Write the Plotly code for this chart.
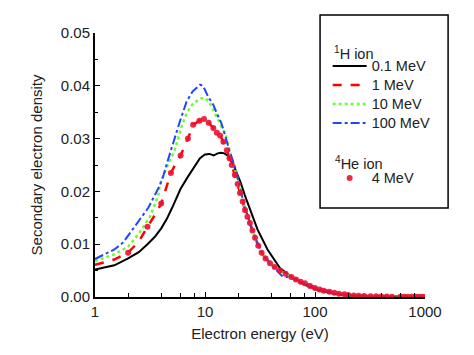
import plotly.graph_objects as go

# 1H ion, 0.1 MeV
e_01 = [1, 1.5, 2, 2.5, 3, 3.5, 4, 4.5, 5, 5.5, 6, 7, 8, 9, 10, 11, 12, 13, 14, 15, 16, 17, 18, 19, 20, 21, 23, 26.6, 30, 37, 48, 61, 81, 106, 150, 200, 300, 500, 1000]
d_01 = [0.0052, 0.0060, 0.0073, 0.0085, 0.0100, 0.0114, 0.0130, 0.0148, 0.0168, 0.0188, 0.0205, 0.0228, 0.0247, 0.0263, 0.0270, 0.0271, 0.0268, 0.0272, 0.0273, 0.0272, 0.0268, 0.0260, 0.0252, 0.0240, 0.0229, 0.0218, 0.0193, 0.0159, 0.0128, 0.0090, 0.0055, 0.0038, 0.0023, 0.0013, 0.0006, 0.0003, 0.00012, 0.00004, 0.0]

# 1H ion, 1 MeV
e_1 = [1, 1.5, 2, 2.5, 3, 3.5, 4, 4.5, 4.9, 5.5, 6, 7, 7.8, 8.9, 9.8, 10.8, 11.9, 12.8, 13.7, 14.7, 15.8, 17.5, 18.7, 20, 21, 23.1, 25.6, 28.5, 32.7, 39, 48, 61, 81, 106, 150, 200, 300, 500, 1000]
d_1 = [0.0061, 0.0071, 0.0084, 0.0105, 0.0133, 0.0155, 0.0177, 0.0210, 0.0235, 0.0255, 0.0268, 0.0300, 0.0326, 0.0334, 0.0337, 0.0330, 0.0320, 0.0311, 0.0306, 0.0294, 0.0278, 0.0250, 0.0231, 0.0210, 0.0195, 0.0165, 0.0140, 0.0112, 0.0083, 0.0064, 0.0050, 0.0038, 0.0026, 0.0016, 0.0008, 0.0004, 0.00018, 0.00006, 0.00002]

# 1H ion, 10 MeV
e_10 = [1, 1.5, 2, 2.5, 3.16, 3.76, 3.9, 4.5, 5.3, 6.1, 6.8, 7.7, 9.0, 10.0, 10.9, 12.5, 14.3, 15.4, 16.2, 17.5, 19, 20.5, 23, 25.6, 28.5, 32.7, 39, 48, 61, 81, 106, 150, 200, 300, 500, 1000]
d_10 = [0.0068, 0.0081, 0.0095, 0.0120, 0.0152, 0.0193, 0.0214, 0.0246, 0.0278, 0.0322, 0.0348, 0.0365, 0.0376, 0.0377, 0.0370, 0.0345, 0.0323, 0.0307, 0.0288, 0.0266, 0.0238, 0.0212, 0.0170, 0.0140, 0.0112, 0.0084, 0.0064, 0.0050, 0.0038, 0.0026, 0.0016, 0.0008, 0.0004, 0.00018, 0.00006, 0.00002]

# 1H ion, 100 MeV
e_100 = [1, 1.5, 1.8, 2.4, 3.05, 3.9, 4.2, 4.6, 5.15, 5.9, 6.8, 7.7, 9, 9.6, 10.7, 11.9, 12.8, 14.1, 15.2, 16.8, 18.7, 20, 21.5, 23, 25.6, 28.5, 32.7, 39, 50, 61, 81, 106, 150, 200, 300, 500, 1000]
d_100 = [0.0072, 0.0090, 0.0103, 0.0140, 0.0169, 0.0212, 0.0231, 0.0259, 0.0294, 0.0332, 0.0370, 0.0389, 0.0402, 0.0400, 0.0379, 0.0364, 0.0348, 0.0329, 0.0307, 0.0275, 0.0247, 0.0222, 0.0196, 0.0170, 0.0142, 0.0113, 0.0085, 0.0064, 0.0040, 0.0036, 0.0025, 0.0016, 0.0008, 0.0004, 0.00018, 0.00006, 0.00002]

# 4He ion, 4 MeV (markers)
e_he = [2, 3, 4, 4.9, 6, 7, 7.8, 8.9, 9.8, 10.8, 11.9, 12.8, 13.7, 14.7, 15.8, 16.7, 17.5, 18.7, 19.8, 20.8, 22, 23.1, 24.3, 25.6, 27, 28.5, 30.5, 32.7, 35.5, 39, 43, 48, 54, 61, 67, 74, 81, 90, 100, 110, 120, 135, 150, 165, 185, 200, 225, 250, 280, 320, 360, 400, 450, 500, 600, 650, 700, 760, 820, 880, 940, 1000]
d_he = [0.0084, 0.0133, 0.0177, 0.0235, 0.0268, 0.0300, 0.0326, 0.0334, 0.0337, 0.0330, 0.0320, 0.0311, 0.0306, 0.0294, 0.0278, 0.0263, 0.0250, 0.0231, 0.0214, 0.0197, 0.0181, 0.0165, 0.0152, 0.0140, 0.0126, 0.0112, 0.0097, 0.0084, 0.0073, 0.0064, 0.0057, 0.0050, 0.0044, 0.0038, 0.0033, 0.0029, 0.0026, 0.0021, 0.0017, 0.0014, 0.0012, 0.0010, 0.0008, 0.0006, 0.0005, 0.0004, 0.0003, 0.00025, 0.0002, 0.00015, 0.00012, 0.0001, 0.00008, 0.00006, 0.00005, 0.00005, 0.00004, 0.00004, 0.00003, 0.00003, 0.00003, 0.00002]

group_titles = ["<sup>1</sup>H ion", "<sup>4</sup>He ion"]

FONT = "Arial, Liberation Sans, sans-serif"
TXT = "#222"


def big(t):
    return '<span style="font-size:14.5px">' + t + '</span>'


fig = go.Figure()
fig.add_trace(go.Scatter(x=e_01, y=d_01, mode="lines", name=big("0.1 MeV"),
                         line=dict(color="black", width=2), legendgroup="H"))
fig.add_trace(go.Scatter(x=e_1, y=d_1, mode="lines", name=big("1 MeV"),
                         line=dict(color="#ff0000", width=2.5, dash="dash"), legendgroup="H"))
fig.add_trace(go.Scatter(x=e_10, y=d_10, mode="lines", name=big("10 MeV"),
                         line=dict(color="#66ff33", width=2.5, dash="dot"), legendgroup="H"))
fig.add_trace(go.Scatter(x=e_100, y=d_100, mode="lines", name=big("100 MeV"),
                         line=dict(color="#2244ff", width=2, dash="dashdot"), legendgroup="H"))
fig.add_trace(go.Scatter(x=e_he, y=d_he, mode="markers", name=big("4 MeV"),
                         marker=dict(color="#ee1133", size=6, opacity=0.9), legendgroup="He"))

# Page body has an 8px default margin: figure is sized/offset accordingly
fig.update_layout(
    width=466, height=347,
    margin=dict(l=87, r=49, t=25, b=58),
    paper_bgcolor="white", plot_bgcolor="white",
    font=dict(family=FONT, size=15, color=TXT),
    showlegend=True,
    legend=dict(x=0.705, y=0.93, xanchor="left", yanchor="top",
                bgcolor="rgba(0,0,0,0)", borderwidth=0, itemwidth=34,
                font=dict(size=12, family=FONT, color=TXT),
                tracegroupgap=36, traceorder="grouped"),
    shapes=[dict(type="rect", xref="paper", yref="paper",
                 x0=0.682, x1=1.070, y0=0.337, y1=1.068,
                 line=dict(color="black", width=1.5), fillcolor="rgba(0,0,0,0)")],
    annotations=[
        dict(text=group_titles[0], xref="paper", yref="paper", x=0.718, y=0.925,
             xanchor="left", yanchor="middle", showarrow=False,
             font=dict(size=14.5, family=FONT, color=TXT)),
        dict(text=group_titles[1], xref="paper", yref="paper", x=0.721, y=0.507,
             xanchor="left", yanchor="middle", showarrow=False,
             font=dict(size=14.5, family=FONT, color=TXT)),
    ],
)
fig.update_xaxes(type="log", range=[0, 3], showline=True, linecolor="black", linewidth=2,
                 ticks="inside", ticklen=5, tickcolor="black", tickwidth=1,
                 tickvals=[1, 10, 100, 1000], ticktext=["1", "10", "100", "1000"],
                 minor=dict(ticks="inside", ticklen=4, tickcolor="black",
                            tickvals=[2, 4, 6, 8, 20, 40, 60, 80, 200, 400, 600, 800]),
                 showgrid=False, zeroline=False, mirror=False,
                 title=dict(text="Electron energy (eV)", font=dict(size=15), standoff=9),
                 tickfont=dict(size=15))
fig.update_yaxes(range=[0, 0.05], dtick=0.01, tickformat=".2f",
                 showline=True, linecolor="black", linewidth=2,
                 ticks="inside", ticklen=5, tickcolor="black", tickwidth=1,
                 minor=dict(ticks="inside", ticklen=3, tickcolor="black", dtick=0.005),
                 showgrid=False, zeroline=False,
                 title=dict(text="Secondary electron density", font=dict(size=15), standoff=15),
                 tickfont=dict(size=15))

fig.write_html("out.html")
